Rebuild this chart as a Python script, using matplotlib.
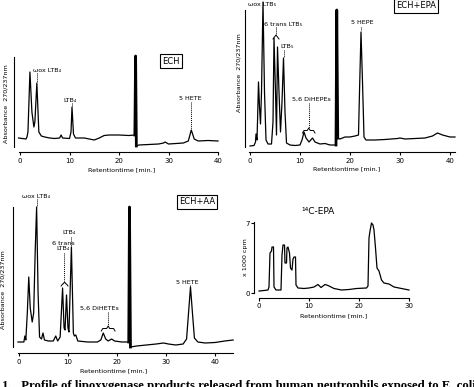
import matplotlib
matplotlib.use("Agg")
import matplotlib.pyplot as plt

plt.rcParams['font.family'] = ['DejaVu Sans']

W, H = 474, 387

# ---- data (time in min, absorbance in arbitrary units) ----
ech_t = [-0.3, 1.2, 1.4, 1.6, 2.0, 2.4, 2.8, 3.0, 3.4, 3.8, 4.3, 5, 6, 7, 8, 8.3, 8.6, 10,
         10.3, 10.5, 10.8, 11.2, 13, 15, 16, 17, 18, 20, 22, 23.2, 23.35, 23.5, 24, 26, 28,
         29, 29.3, 30, 33, 34, 34.6, 35.2, 36, 38, 40]
ech_a = [14, 13, 15, 20, 80, 40, 25, 30, 69, 20, 16, 15, 14, 13.5, 14, 17, 14, 13.5,
         20, 45, 18, 14, 14, 12, 14, 16.5, 17, 17, 16.5, 17, 96, 6, 7, 7.5, 8,
         9, 10, 8, 9, 11, 22, 13, 11, 11.5, 11]
ech_spike = (29, 32)

epa_t = [0, 0.8, 1.1, 1.2, 1.4, 1.5, 1.7, 1.9, 2.1, 2.3, 2.6, 2.9, 3.2, 3.6, 4.3, 4.6, 4.8,
         5.1, 5.3, 5.5, 5.8, 6.1, 6.4, 6.7, 7.0, 7.3, 8, 9, 10, 10.4, 10.8, 11.2, 11.8,
         12.5, 13.0, 14, 15, 16, 17.2, 17.35, 17.55, 18, 19, 20, 21, 21.7, 21.9, 22.2,
         22.5, 22.8, 23.2, 25, 27, 29.5, 30, 31, 33, 35, 36.5, 37.5, 38.5, 40, 41]
epa_a = [6, 6.5, 10, 18, 12, 30, 70, 45, 28, 60, 150, 60, 12, 8, 8, 30, 114,
         60, 17, 105, 60, 20, 50, 94, 40, 9, 7, 6.5, 7, 12, 20, 14, 10,
         14, 10, 8, 8.5, 7, 7, 142, 14, 13, 15, 15, 16, 17, 60, 120,
         70, 15, 12, 12, 12.5, 13.5, 14, 13, 13.5, 14, 16, 19, 17, 15, 15]
epa_spike = (38, 41)

aa_t = [-0.2, 1.0, 1.2, 1.4, 1.7, 2.0, 2.3, 2.7, 3.0, 3.3, 3.6, 3.9, 4.2, 4.6, 4.9, 5.2, 6,
        7, 7.5, 7.9, 8.4, 8.9, 9.2, 9.4, 9.7, 10.0, 10.2, 10.7, 11.1, 11.3, 11.6, 12, 14,
        16, 16.7, 17.2, 17.7, 18.2, 18.9, 19.5, 21, 22.4, 22.55, 22.75, 24, 26, 28, 29.5,
        30.5, 32, 33.5, 34.2, 34.6, 35.0, 35.4, 35.8, 36.5, 38, 40, 42, 43.7]
aa_a = [11, 11, 17, 13, 40, 76, 45, 31, 40, 100, 146, 60, 16, 14, 20, 13, 12,
        12, 17, 12, 16, 65, 25, 23, 58, 25, 21, 106, 20, 17, 18, 12, 11,
        11, 13, 20, 14, 12, 14, 12, 11, 11, 146, 6, 7, 8, 9, 10,
        9, 8, 9, 14, 40, 66, 40, 15, 11, 10, 10.5, 12, 13]
aa_spike = (41, 44)

# radioactivity (x 1000 cpm)
c14_t = [0, 1.0, 1.8, 2.0, 2.2, 2.5, 2.6, 2.9, 3.0, 3.4, 4.4, 4.6, 4.8, 5.1, 5.2, 5.5, 5.6,
         5.8, 6.1, 6.3, 6.6, 6.8, 7.0, 7.3, 7.4, 7.8, 9, 10, 11, 11.8, 12.4, 13.2, 13.8, 15,
         16.5, 18, 19.5, 21.5, 21.8, 22.0, 22.2, 22.5, 22.8, 23.0, 23.3, 23.6, 24.0, 24.5,
         25.0, 26, 27, 28, 29, 30]
c14_v = [0.2, 0.25, 0.3, 0.6, 4.0, 4.2, 4.6, 4.6, 0.6, 0.3, 0.3, 3.8, 4.8, 4.8, 3.0, 3.0, 4.5,
         4.6, 4.0, 2.5, 2.3, 3.4, 3.6, 3.6, 0.8, 0.5, 0.45, 0.5, 0.6, 0.85, 0.55, 0.85, 0.75, 0.45,
         0.3, 0.35, 0.45, 0.5, 0.7, 5.5, 6.2, 7.0, 6.8, 6.3, 4.5, 2.5, 2.2, 1.3,
         1.0, 0.9, 0.6, 0.5, 0.4, 0.3]

abs_ticks = [0, 10, 20, 30, 40]
c14_ticks = [0, 10, 20, 30]

fig = plt.figure(figsize=(W / 100, H / 100), dpi=100)


def add_panel(left, top, width, height):
    ax = fig.add_axes([left / W, 1 - (top + height) / H, width / W, height / H])
    ax.set_facecolor('none')
    for s in ('top', 'right'):
        ax.spines[s].set_visible(False)
    ax.tick_params(axis='x', length=2.5, width=0.8, pad=1.5, labelsize=5)
    return ax


def dotted(ax, x, y0, y1):
    ax.plot([x, x], [y0, y1], color='k', ls=(0, (1, 1)), lw=0.7, clip_on=False)


def brace(ax, x0, x1, y, h):
    m = (x0 + x1) / 2
    ax.plot([x0, x0 + 0.3, m - 0.3, m, m + 0.3, x1 - 0.3, x1],
            [y, y + h * 0.5, y + h * 0.5, y + h, y + h * 0.5, y + h * 0.5, y],
            color='k', lw=0.7, clip_on=False)


def chrom(ax, t, a, spike, xlim, ylim, ybounds, xb):
    ax.plot(t, a, color='k', lw=0.9)
    ax.plot(t[spike[0]:spike[1]], a[spike[0]:spike[1]], color='k', lw=2.0)
    ax.set_xlim(*xlim)
    ax.set_ylim(*ylim)
    ax.spines['left'].set_position(('data', xlim[0] + 0.1))
    ax.spines['left'].set_bounds(*ybounds)
    ax.spines['bottom'].set_bounds(*xb)
    ax.set_yticks([])
    ax.set_xticks(abs_ticks)


txt = dict(fontsize=4.6, ha='center', va='center', clip_on=False)
box = dict(boxstyle='square,pad=0.25', fc='white', ec='k', lw=0.8)

# ---- ECH ----
ax1 = add_panel(13.6, 52, 214.3, 100)
chrom(ax1, ech_t, ech_a, ech_spike, (-1.3, 42), (0, 100), (5, 95), (-0.3, 40))
ax1.text(2.6, 82, 'ωox LTB₄', **{**txt, 'ha': 'left'})
dotted(ax1, 3.4, 79, 70)
ax1.text(10.1, 52, 'LTB₄', **txt)
dotted(ax1, 10.5, 49, 46)
ax1.text(34.5, 53, '5 HETE', **txt)
dotted(ax1, 34.6, 50, 23)
ax1.text(30.5, 91, 'ECH', fontsize=6, ha='center', va='center', bbox=box)
ax1.text(-2.8, 48, 'Absorbance  270/237nm', rotation=90, **txt)
ax1.text(20.6, -18, 'Retentiontime [min.]', **txt)

# ---- ECH + EPA ----
ax2 = add_panel(244, 0, 221, 152)
chrom(ax2, epa_t, epa_a, epa_spike, (-1.2, 43), (0, 152), (5, 142), (-0.3, 41))
ax2.text(2.4, 148, 'ωox LTB₅', **txt)
ax2.text(2.8, 128, '6 trans LTB₅', **{**txt, 'ha': 'left'})
dotted(ax2, 5.2, 125, 117)
brace(ax2, 4.6, 5.8, 113, 4)
ax2.text(6.0, 106, 'LTB₅', **{**txt, 'ha': 'left'})
dotted(ax2, 6.7, 102, 95)
ax2.text(8.4, 53, '5,6 DiHEPEs', **{**txt, 'ha': 'left'})
dotted(ax2, 11.8, 49, 24)
brace(ax2, 10.5, 13.0, 19, 5)
ax2.text(22.4, 129, '5 HEPE', **txt)
dotted(ax2, 22.2, 125, 121)
ax2.text(33.2, 146, 'ECH+EPA', fontsize=6, ha='center', va='center', bbox=box)
ax2.text(-2.2, 79, 'Absorbance  270/237nm', rotation=90, **txt)
ax2.text(19.4, -17, 'Retentiontime [min.]', **txt)

# ---- ECH + AA ----
ax3 = add_panel(12.6, 203, 222, 150)
chrom(ax3, aa_t, aa_a, aa_spike, (-1.3, 44), (0, 150), (6, 146), (-0.3, 43.7))
ax3.text(3.5, 157, 'ωox LTB₄', **txt)
dotted(ax3, 3.6, 154, 147)
ax3.text(10.2, 120, 'LTB₄', **txt)
dotted(ax3, 10.7, 116, 107)
ax3.text(9.0, 107, '6 trans\nLTB₄', linespacing=1.0, **txt)
dotted(ax3, 9.2, 100, 72)
brace(ax3, 8.6, 10.0, 67, 4)
ax3.text(16.5, 45, '5,6 DiHETEs', **txt)
dotted(ax3, 18.2, 41, 27)
brace(ax3, 16.8, 19.6, 22, 5)
ax3.text(34.3, 71, '5 HETE', **txt)
dotted(ax3, 35.0, 68, 66)
ax3.text(36.3, 151, 'ECH+AA', fontsize=6, ha='center', va='center', bbox=box, clip_on=False)
ax3.text(-3.3, 63, 'Absorbance  270/237nm', rotation=90, **txt)
ax3.text(19.2, -18, 'Retentiontime [min.]', **txt)

# ---- 14C-EPA ----
ax4 = add_panel(253, 218, 161, 80)
ax4.plot(c14_t, c14_v, color='k', lw=0.9)
ax4.set_xlim(-1.2, 31)
ax4.set_ylim(-0.5, 7.5)
ax4.spines['left'].set_position(('data', -1.0))
ax4.spines['left'].set_bounds(0, 7.1)
ax4.spines['bottom'].set_bounds(0, 30)
ax4.set_xticks(c14_ticks)
ax4.set_yticks([0, 7])
ax4.tick_params(axis='x', pad=1)
ax4.tick_params(axis='y', length=2, width=0.8, pad=1, labelsize=5)
ax4.text(11.8, 8.2, '¹⁴C-EPA', fontsize=6.5, ha='center', va='center', clip_on=False)
ax4.text(-2.8, 3.6, 'x 1000 cpm', rotation=90, **txt)
ax4.text(15, -2.3, 'Retentiontime [min.]', **txt)

# caption, cut at the bottom edge as in the scan
fig.text(0.004, 1 - 380 / H, '1.   Profile of lipoxygenase products released from human neutrophils exposed to E. coli h',
         family='Liberation Serif', fontweight='bold', fontsize=9.2, ha='left', va='top')

fig.savefig('out.png', dpi=100)
